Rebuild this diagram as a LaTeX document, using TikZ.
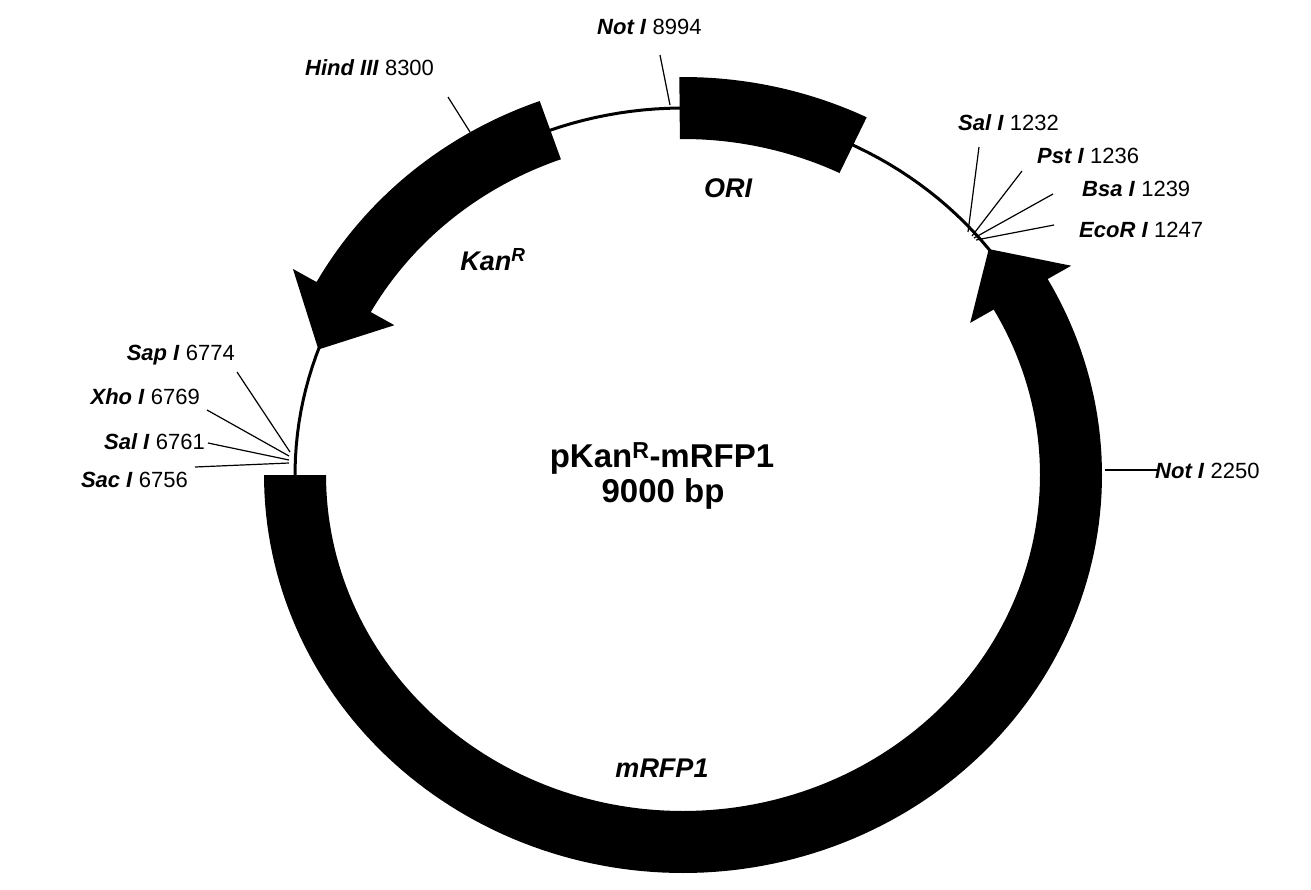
\documentclass[tikz,border=0pt]{standalone}
\usepackage{fontspec}
\setmainfont{Liberation Sans}
\begin{document}
\begin{tikzpicture}[x=1pt,y=-1pt,
  lbl/.style={font=\fontsize{22}{24}\selectfont,inner sep=0pt,anchor=west},
  big/.style={font=\fontsize{33}{36}\selectfont\bfseries,inner sep=0pt},
  gene/.style={font=\fontsize{27}{30}\selectfont\bfseries\itshape,inner sep=0pt},
  tick/.style={line width=1.2pt}]
\useasboundingbox (0,0) rectangle (1311,889);
\newcommand\ep[2]{({683+(388+#2)*cos(#1)},{475-(367+#2)*sin(#1)})}
% backbone
\draw[line width=3pt] plot[domain=0:360,samples=200] ({683+388*cos(\x)},{475-367*sin(\x)});
% ORI
\fill plot[domain=90.5:64,samples=40] ({683+419*cos(\x)},{475-398*sin(\x)}) -- plot[domain=64:90.5,samples=40] ({683+357*cos(\x)},{475-336*sin(\x)}) -- cycle;
% KanR
\fill plot[domain=110:151,samples=40] ({683+419*cos(\x)},{475-398*sin(\x)}) -- \ep{151}{58} -- \ep{160}{0} -- \ep{151}{-58} -- plot[domain=151:110,samples=40] ({683+357*cos(\x)},{475-336*sin(\x)}) -- cycle;
% mRFP1
\fill plot[domain=-180:29.5,samples=150] ({683+419*cos(\x)},{475-398*sin(\x)}) -- \ep{29.5}{58} -- \ep{38}{0} -- \ep{29.5}{-58} -- plot[domain=29.5:-180,samples=150] ({683+357*cos(\x)},{475-336*sin(\x)}) -- cycle;
% gene labels
\node[gene] (ori) at (728,188) {ORI};
\node[gene] (kan) at (493,260) {Kan\textsuperscript{R}};
\node[gene] (rfp) at (662,768) {mRFP1};
\node[big] (name) at (662,458) {pKan\textsuperscript{R}-mRFP1};
\node[big] (size) at (663,494) {9000 bp};
% sites
\node[lbl] (not1) at (597,27) {\textbf{\textit{Not I}} 8994};
\coordinate (n1a) at (660,55); \coordinate (n1b) at (670,105);
\draw[tick] (n1a) -- (n1b);
\node[lbl] (hind) at (305,68) {\textbf{\textit{Hind III}} 8300};
\coordinate (ha) at (448,97); \coordinate (hb) at (470,132);
\draw[tick] (ha) -- (hb);
\node[lbl] (sal1) at (958,123) {\textbf{\textit{Sal I}} 1232};
\node[lbl] (pst) at (1037,156) {\textbf{\textit{Pst I}} 1236};
\node[lbl] (bsa) at (1082,189) {\textbf{\textit{Bsa I}} 1239};
\node[lbl] (eco) at (1079,230) {\textbf{\textit{EcoR I}} 1247};
\coordinate (s1a) at (979,147); \coordinate (s1b) at (968,232);
\coordinate (pa) at (1022,171); \coordinate (pb) at (972,236);
\coordinate (ba) at (1053,194); \coordinate (bb) at (974,238);
\coordinate (ea) at (1054,225); \coordinate (eb) at (976,240);
\draw[tick] (s1a) -- (s1b); \draw[tick] (pa) -- (pb);
\draw[tick] (ba) -- (bb); \draw[tick] (ea) -- (eb);
\node[lbl] (not2) at (1155,471) {\textbf{\textit{Not I}} 2250};
\coordinate (n2a) at (1105,470); \coordinate (n2b) at (1158,470);
\draw[tick] (n2a) -- (n2b);
\node[lbl,anchor=east] (sap) at (235,355) {\textbf{\textit{Sap I}} 6774};
\node[lbl,anchor=east] (xho) at (200,397) {\textbf{\textit{Xho I}} 6769};
\node[lbl,anchor=east] (sal2) at (205,442) {\textbf{\textit{Sal I}} 6761};
\node[lbl,anchor=east] (sac) at (188,480) {\textbf{\textit{Sac I}} 6756};
\coordinate (sa) at (237,372); \coordinate (sb) at (290,452);
\coordinate (xa) at (207,410); \coordinate (xb) at (289,456);
\coordinate (la) at (208,443); \coordinate (lb) at (289,460);
\coordinate (ca) at (195,467); \coordinate (cb) at (289,463);
\draw[tick] (sa) -- (sb); \draw[tick] (xa) -- (xb);
\draw[tick] (la) -- (lb); \draw[tick] (ca) -- (cb);
\end{tikzpicture}
\end{document}
